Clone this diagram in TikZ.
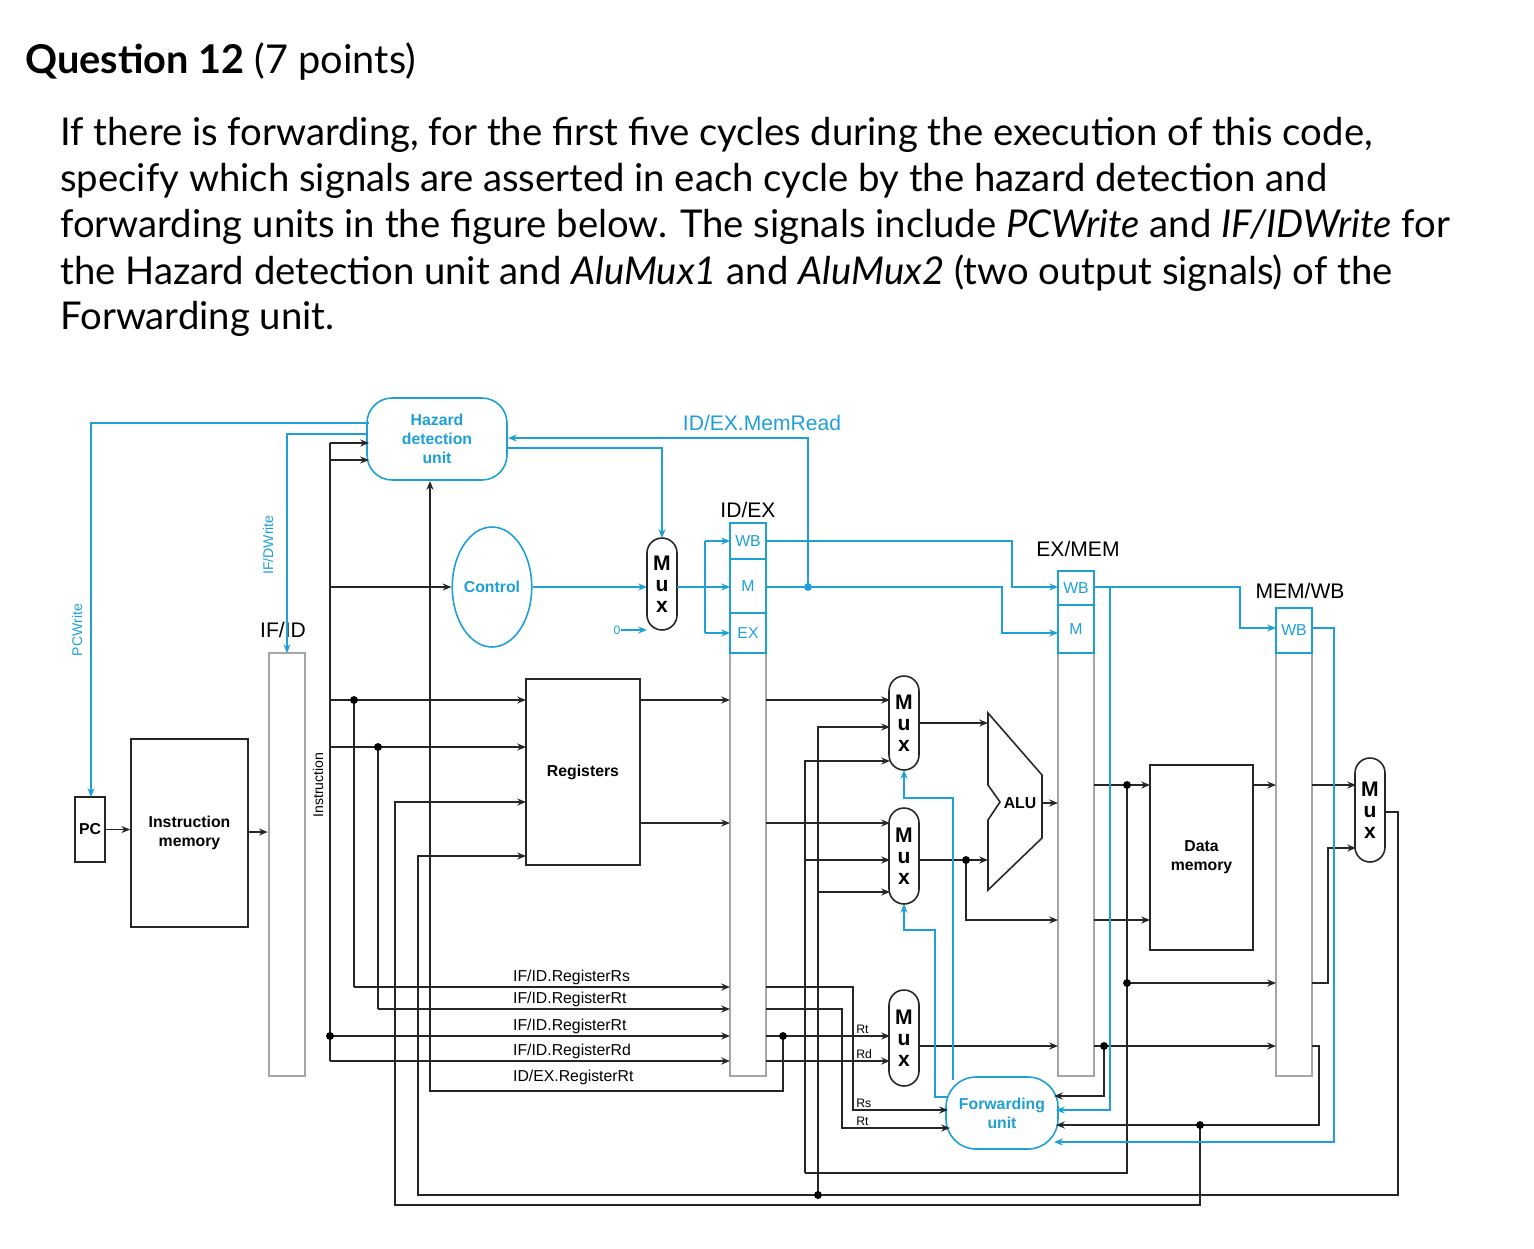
\documentclass[tikz,border=0pt]{standalone}
\usepackage{fontspec}
\setmainfont{Lato}
\newfontfamily\dgm{Liberation Sans}
\usetikzlibrary{arrows.meta,shapes.geometric}
\definecolor{hblue}{RGB}{30,160,215}
\newcommand{\muxtext}{\textbf{M}\\[-2pt]\textbf{u}\\[-2pt]\textbf{x}}

\begin{document}
\begin{tikzpicture}[x=0.02cm,y=-0.02cm,
    >={Stealth[length=5pt,width=4pt]},
    every node/.style={font=\dgm},
    blk/.style={draw=black!85,line width=0.9pt},
    blu/.style={draw=hblue,line width=0.9pt},
    reg/.style={draw=black!35,line width=1.4pt,fill=white,minimum width=0.72cm,minimum height=8.46cm},
    seg/.style={draw=hblue,line width=0.9pt,fill=white,minimum width=0.72cm,text=hblue,font=\dgm\small,inner sep=0pt},
    box/.style={draw=black!85,line width=0.9pt,fill=white,font=\dgm\bfseries\small,align=center},
    mux/.style={draw=black!85,line width=0.9pt,fill=white,rounded corners=0.3cm,minimum width=0.6cm,
        align=center,font=\dgm\large,inner sep=0pt},
    bu/.style={draw=hblue,line width=0.9pt,fill=white,text=hblue,font=\dgm\bfseries\small,align=center},
    dot/.style={circle,fill=black,inner sep=0pt,minimum size=4.5pt},
    rlab/.style={font=\dgm\small,anchor=south west,inner sep=1pt},
    tiny/.style={font=\dgm\scriptsize,inner sep=0pt}]
\useasboundingbox (0,0) rectangle (1534,1248);

% question text
\node[anchor=west,inner sep=0pt,font=\fontsize{22.6}{28}\selectfont] (title) at (25,62) {\textbf{Question 12} (7 points)};
\begin{scope}[every node/.style={anchor=west,inner sep=0pt,font=\fontsize{21.8}{26}\selectfont}]
    \node (l1) at (60,135) {If there is forwarding, for the first five cycles during the execution of this code,};
    \node (l2) at (60,181) {specify which signals are asserted in each cycle by the hazard detection and};
    \node (l3) at (60,227) {forwarding units in the figure below. The signals include \textit{PCWrite} and \textit{IF/IDWrite} for};
    \node (l4) at (60,273) {the Hazard detection unit and \textit{AluMux1} and \textit{AluMux2} (two output signals) of the};
    \node (l5) at (60,319) {Forwarding unit.};
\end{scope}

% pipeline registers
\node[reg] (ifid) at (287,864.5) {};
\node[reg] (idex) at (748,864.5) {};
\node[reg] (exmem) at (1076,864.5) {};
\node[reg] (memwb) at (1294,864.5) {};
\node[seg,minimum height=0.72cm] (idwb) at (748,541) {WB};
\node[seg,minimum height=1.08cm] (idm) at (748,586) {M};
\node[seg,minimum height=0.8cm] (idx) at (748,633) {EX};
\node[seg,minimum height=0.68cm] (exwb) at (1076,588) {WB};
\node[seg,minimum height=0.96cm] (exm) at (1076,629) {M};
\node[seg,minimum height=0.9cm] (mwb) at (1294,630.5) {WB};
\node[font=\dgm\large] (lifid) at (283,630) {IF/ID};
\node[font=\dgm\large] (lidex) at (748,510) {ID/EX};
\node[font=\dgm\large] (lexmem) at (1078,549) {EX/MEM};
\node[font=\dgm\large] (lmemwb) at (1300,591) {MEM/WB};
\node[rotate=90,font=\dgm\footnotesize] (instr) at (318,785) {Instruction};

% units
\node[box,minimum width=0.6cm,minimum height=1.3cm,inner sep=0pt] (pc) at (90,829.5) {PC};
\node[box,minimum width=2.34cm,minimum height=3.76cm] (imem) at (189.5,833) {Instruction\\memory};
\node[box,minimum width=2.28cm,minimum height=3.72cm] (regs) at (583,772) {Registers};
\node[box,minimum width=2.06cm,minimum height=3.7cm] (dmem) at (1201.5,857.5) {Data\\memory};
\node[bu,rounded corners=0.5cm,minimum width=2.8cm,minimum height=1.64cm] (hdu) at (437,439) {Hazard\\detection\\unit};
\node[bu,ellipse,minimum width=1.28cm,minimum height=2.4cm,inner sep=0pt] (ctrl) at (492,587) {Control};
\node[bu,rounded corners=0.6cm,minimum width=2.24cm,minimum height=1.44cm] (fwd) at (1002,1113) {Forwarding\\unit};
\node[mux,minimum height=1.84cm] (cmux) at (662,584) {\muxtext};
\node[mux,minimum height=1.88cm] (muxa) at (904,723) {\muxtext};
\node[mux,minimum height=1.92cm] (muxb) at (904,856) {\muxtext};
\node[mux,minimum height=1.92cm] (muxc) at (904,1038) {\muxtext};
\node[mux,minimum height=2.08cm] (muxw) at (1370,810) {\muxtext};
\draw[blk,fill=white] (988,713) -- (1042,775) -- (1042,838) -- (988,890) -- (988,820)
    -- (1000,802) -- (988,785) -- cycle;
\node[font=\dgm\bfseries\small,inner sep=0pt] (alu) at (1020,803) {ALU};

% blue labels
\node[text=hblue,font=\dgm\large] (lmr) at (762,423) {ID/EX.MemRead};
\node[text=hblue,rotate=90,font=\dgm\footnotesize] (lpcw) at (77,630) {PCWrite};
\node[text=hblue,rotate=90,font=\dgm\footnotesize] (lifw) at (268,545) {IF/DWrite};
\node[text=hblue,tiny] (zero) at (617,630) {0};

% register field labels
\node[rlab] (trs) at (511,987) {IF/ID.RegisterRs};
\node[rlab] (trt) at (511,1009) {IF/ID.RegisterRt};
\node[rlab] (trt2) at (511,1036) {IF/ID.RegisterRt};
\node[rlab] (trd) at (511,1061) {IF/ID.RegisterRd};
\node[rlab] (tirt) at (511,1087) {ID/EX.RegisterRt};
\node[tiny,anchor=south west] (mrt) at (856,1034) {Rt};
\node[tiny,anchor=south west] (mrd) at (856,1059) {Rd};
\node[tiny,anchor=south west] (frs) at (856,1108) {Rs};
\node[tiny,anchor=south west] (frt) at (856,1126) {Rt};

% black wires
\draw[blk,->] (pc.east) -- (pc.east -| imem.west);
\draw[blk,->] (248,832) -- (ifid.west |- 0,832);
\draw[blk] (330,443) -- (330,1061);
\draw[blk,->] (330,443) -- (369,443);
\draw[blk,->] (330,460) -- (369,460);
\draw[blk,->] (330,587) -- (ctrl.west);
\draw[blk,->] (330,700) -- (526,700);
\draw[blk,->] (330,747) -- (526,747);
\draw[blk] (354,700) -- (354,987);
\draw[blk] (378,747) -- (378,1009);
\draw[blk,->] (354,987) -- (730,987);
\draw[blk,->] (378,1009) -- (730,1009);
\draw[blk,->] (330,1036) -- (730,1036);
\draw[blk,->] (330,1061) -- (730,1061);
\draw[blk,->] (783,1036) -- (783,1091) -- (430,1091) -- (430,481);
\draw[blk,->] (640,700) -- (730,700);
\draw[blk,->] (640,823) -- (730,823);
\draw[blk,->] (766,700) -- (890,700);
\draw[blk,->] (766,823) -- (890,823);
\draw[blk,->] (766,987) -- (853,987) -- (853,1110) -- (948,1110);
\draw[blk,->] (766,1009) -- (842,1009) -- (842,1128) -- (950,1128);
\draw[blk,->] (766,1036) -- (890,1036);
\draw[blk,->] (766,1061) -- (890,1061);
\draw[blk,->] (918,1046) -- (1058,1046);
\draw[blk,->] (1094,1046) -- (1276,1046);
\draw[blk,->] (1104,1046) -- (1104,1096) -- (1054,1096);
\draw[blk,->] (1312,1046) -- (1319,1046) -- (1319,1125) -- (1056,1125);
\draw[blk,->] (1200,1125) -- (1200,1205) -- (395,1205) -- (395,802) -- (526,802);
\draw[blk,->] (1384,812) -- (1398,812) -- (1398,1195) -- (418,1195) -- (418,856) -- (526,856);
\draw[blk,->] (818,1195) -- (818,727) -- (890,727);
\draw[blk,->] (818,892) -- (890,892);
\draw[blk,->] (805,1173) -- (805,761) -- (890,761);
\draw[blk,->] (805,860) -- (890,860);
\draw[blk] (805,1173) -- (1127,1173) -- (1127,785);
\draw[blk,->] (1094,785) -- (1150,785);
\draw[blk,->] (1127,983) -- (1276,983);
\draw[blk,->] (918,723) -- (988,723);
\draw[blk,->] (918,860) -- (988,860);
\draw[blk,->] (966,860) -- (966,920) -- (1058,920);
\draw[blk,->] (1042,803) -- (1058,803);
\draw[blk,->] (1094,920) -- (1150,920);
\draw[blk,->] (1253,785) -- (1276,785);
\draw[blk,->] (1312,785) -- (1356,785);
\draw[blk,->] (1312,983) -- (1328,983) -- (1328,848) -- (1356,848);
\foreach \p in {(354,700),(378,747),(330,1036),(783,1036),(1104,1046),(1200,1125),
    (818,1195),(1127,785),(1127,983),(966,860)}
    \node[dot] at \p {};

% blue wires
\draw[blu,->] (369,423) -- (91,423) -- (91,797);
\draw[blu,->] (368,434) -- (287,434) -- (287,653);
\draw[blu,->] (506,448) -- (662,448) -- (662,538);
\draw[blu,->] (808,587) -- (808,438) -- (508,438);
\draw[blu,->] (zero) -- (647,630);
\draw[blu,->] (ctrl.east) -- (647,587);
\draw[blu,->] (677,587) -- (730,587);
\draw[blu] (705,541) -- (705,633);
\draw[blu,->] (705,541) -- (730,541);
\draw[blu,->] (705,633) -- (730,633);
\draw[blu,->] (766,541) -- (1012,541) -- (1012,587) -- (1058,587);
\draw[blu,->] (766,587) -- (1002,587) -- (1002,633) -- (1058,633);
\draw[blu,->] (1094,587) -- (1240,587) -- (1240,628) -- (1276,628);
\draw[blu,->] (1110,587) -- (1110,1110) -- (1056,1110);
\draw[blu,->] (1312,628) -- (1334,628) -- (1334,1142) -- (1054,1142);
\draw[blu,->] (953,1080) -- (953,798) -- (904,798) -- (904,770);
\draw[blu,->] (948,1097) -- (935,1097) -- (935,930) -- (904,930) -- (904,904);
\node[dot,fill=hblue] at (808,587) {};
\end{tikzpicture}
\end{document}
